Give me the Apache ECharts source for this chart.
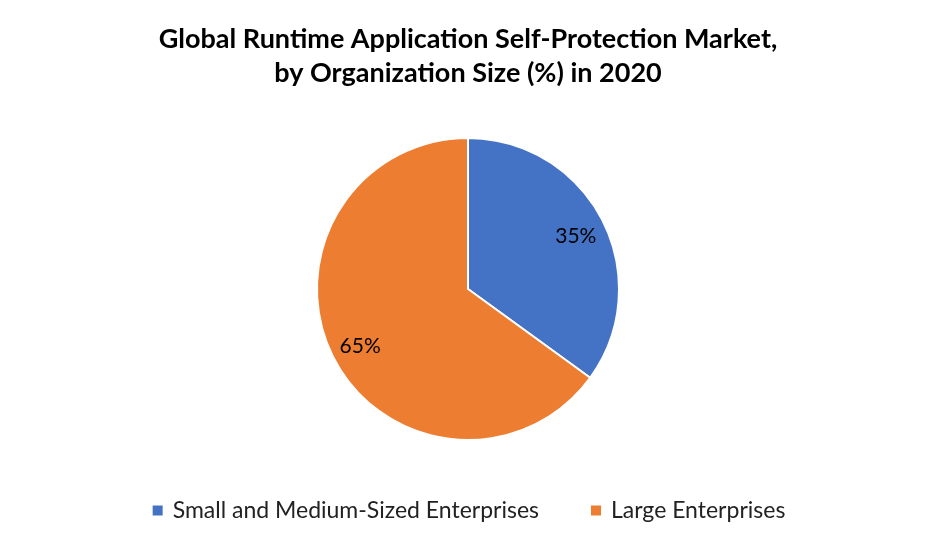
<!DOCTYPE html>
<html><head><meta charset="utf-8">
<script src="https://cdn.jsdelivr.net/npm/echarts@6/dist/echarts.min.js"></script>
<style>html,body{margin:0;padding:0;background:#fff}#c{width:936px;height:546px}</style>
</head><body><div id="c"></div>
<script>
const titleText = 'Global Runtime Application Self-Protection Market,\nby Organization Size (%) in 2020';
const categories = ['Small and Medium-Sized Enterprises', 'Large Enterprises'];
const shares = [35, 65];
const colors = ['#4472C4', '#ED7D31'];

const chart = echarts.init(document.getElementById('c'));
const data = categories.map((n, i) => ({ name: n, value: shares[i] }));
chart.setOption({
  animation: false,
  color: colors,
  title: {
    text: titleText, left: 'center', top: 17,
    textStyle: { fontFamily: 'Lato', fontWeight: 'bold', fontSize: 27, lineHeight: 34, color: '#000' }
  },
  legend: {
    bottom: 19, left: 'center', itemWidth: 12, itemHeight: 12, itemGap: 50, icon: 'rect',
    textStyle: { fontFamily: 'Lato', fontSize: 23, color: '#222', padding: [0, 0, 0, 4] },
    data: categories
  },
  series: [{
    type: 'pie', radius: 151, center: [468, 289], clockwise: true, startAngle: 90,
    data: data, label: { show: false }, labelLine: { show: false },
    itemStyle: { borderColor: '#fff', borderWidth: 2 }, silent: true
  }, {
    type: 'pie', radius: 236, center: [468, 291], clockwise: true, startAngle: 90,
    data: data, silent: true, legendHoverLink: false,
    itemStyle: { color: 'rgba(0,0,0,0)', borderWidth: 0 },
    label: { show: true, position: 'inside', formatter: '{c}%', fontFamily: 'Lato', fontSize: 21, color: '#000' },
    labelLine: { show: false }
  }]
});
</script></body></html>
